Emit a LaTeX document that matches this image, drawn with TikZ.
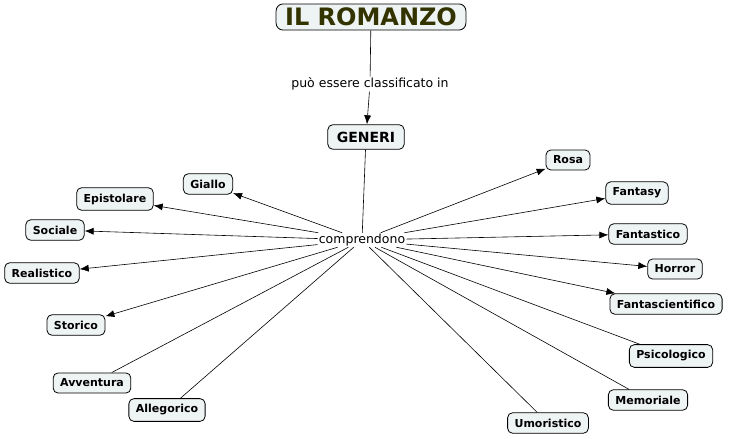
\documentclass[tikz,border=0pt]{standalone}
\usepackage{fontspec}
\setmainfont{DejaVu Sans}
\usetikzlibrary{arrows.meta}
\definecolor{boxfill}{HTML}{EEF3F3}
\definecolor{olive}{HTML}{333300}
\begin{document}
\begin{tikzpicture}[x=1pt,y=-1pt,
  box/.style={draw=black,fill=boxfill,rounded corners=5pt,font=\fontsize{11}{13}\selectfont\bfseries,inner xsep=7pt,inner ysep=6pt,line width=0.8pt},
  lbl/.style={font=\fontsize{12.5}{14}\selectfont,fill=white,inner sep=1pt},
  arr/.style={-{Latex[length=9pt,width=7pt]},line width=0.6pt},
  ln/.style={line width=0.6pt}]
\useasboundingbox (0,0) rectangle (731,439);
\node[box,font=\fontsize{24}{26}\selectfont\bfseries,text=olive,inner xsep=9pt,inner ysep=4pt,rounded corners=7pt] (t) at (371,17) {IL ROMANZO};
\node[lbl] (p) at (370,84) {può essere classificato in};
\node[box,font=\fontsize{14}{16}\selectfont\bfseries,inner xsep=9pt,inner ysep=7pt] (g) at (366,137) {GENERI};
\node[lbl] (c) at (362,240) {comprendono};
\draw[ln] (t) -- (p);
\draw[arr] (p) -- (g);
\draw[ln] (g) -- (c);
\node[box] (n1) at (208,184) {Giallo};
\node[box] (n2) at (115,199) {Epistolare};
\node[box] (n3) at (55,230) {Sociale};
\node[box] (n4) at (42,273) {Realistico};
\node[box] (n5) at (76,325) {Storico};
\node[box] (n6) at (92,383) {Avventura};
\node[box] (n7) at (167,410) {Allegorico};
\node[box] (n8) at (548,423) {Umoristico};
\node[box] (n9) at (648,400) {Memoriale};
\node[box] (n10) at (671,356) {Psicologico};
\node[box] (n11) at (666,304) {Fantascientifico};
\node[box] (n12) at (675,269) {Horror};
\node[box] (n13) at (648,234) {Fantastico};
\node[box] (n14) at (637,193) {Fantasy};
\node[box] (n15) at (568,160) {Rosa};
\foreach \n in {n1,n2,n3,n4,n5,n11,n12,n13,n14,n15} \draw[arr] (c) -- (\n);
\foreach \n in {n6,n7,n8,n9,n10} \draw[ln] (c) -- (\n);
\end{tikzpicture}
\end{document}
